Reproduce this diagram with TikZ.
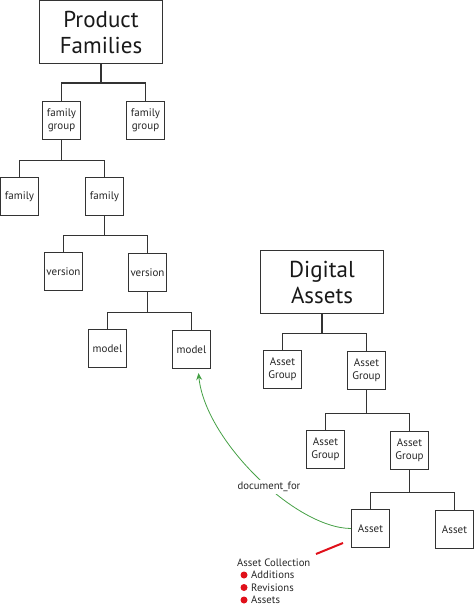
\documentclass[tikz,border=0pt]{standalone}
\usepackage{fontspec}
\setmainfont{PT Sans}
\usetikzlibrary{arrows.meta,calc}
\definecolor{linegray}{HTML}{333333}
\definecolor{arrowgreen}{HTML}{45A045}
\definecolor{bulletred}{HTML}{E0101A}
\begin{document}
\begin{tikzpicture}[x=1pt,y=-1pt,
  box/.style={draw=linegray, line width=1.2pt, minimum width=38pt, minimum height=38pt, inner sep=1pt, align=center, font=\fontsize{11}{13}\selectfont, text=black!85},
  bigbox/.style={draw=linegray, line width=1.2pt, minimum width=123pt, minimum height=63pt, inner sep=1pt, align=center, font=\fontsize{23}{26}\selectfont, text=black!90},
  conn/.style={draw=linegray, line width=1.2pt},
  label/.style={font=\fontsize{10.7}{12}\selectfont, text=black!85, inner sep=1pt},
  bullet/.style={circle, fill=bulletred, inner sep=0pt, minimum size=7pt},
]
\useasboundingbox (0,0) rectangle (474,607);
% Product families tree
\node[bigbox] (pf) at (101,32) {Product\\Families};
\node[box] (fg1) at (61.5,120.5) {family\\group};
\node[box] (fg2) at (145.5,120.5) {family\\group};
\node[box] (fam1) at (19.5,196.5) {family};
\node[box] (fam2) at (104.5,196.5) {family};
\node[box] (v1) at (63.5,271.5) {version};
\node[box] (v2) at (147.5,272.5) {version};
\node[box] (m1) at (107.5,348.5) {model};
\node[box] (m2) at (191.5,349.5) {model};
\draw[conn] (pf.south) -- ++(0,19) -| (fg1.north);
\draw[conn] (pf.south) -- ++(0,19) -| (fg2.north);
\draw[conn] (fg1.south) -- ++(0,20) -| (fam1.north);
\draw[conn] (fg1.south) -- ++(0,20) -| (fam2.north);
\draw[conn] (fam2.south) -- ++(0,19) -| (v1.north);
\draw[conn] (fam2.south) -- ++(0,19) -| (v2.north);
\draw[conn] (v2.south) -- ++(0,20) -| (m1.north);
\draw[conn] (v2.south) -- ++(0,20) -| (m2.north);
% Digital assets tree
\node[bigbox] (da) at (322,282) {Digital\\Assets};
\node[box] (ag1) at (282.5,369.5) {Asset\\Group};
\node[box] (ag2) at (366.5,370.5) {Asset\\Group};
\node[box] (ag3) at (325.5,449.5) {Asset\\Group};
\node[box] (ag4) at (409.5,450.5) {Asset\\Group};
\node[box] (a1) at (370.5,528.5) {Asset};
\node[box] (a2) at (454.5,529.5) {Asset};
\draw[conn] (da.south) -- ++(0,19) -| (ag1.north);
\draw[conn] (da.south) -- ++(0,19) -| (ag2.north);
\draw[conn] (ag2.south) -- ++(0,23) -| (ag3.north);
\draw[conn] (ag2.south) -- ++(0,23) -| (ag4.north);
\draw[conn] (ag4.south) -- ++(0,22) -| (a1.north);
\draw[conn] (ag4.south) -- ++(0,22) -| (a2.north);
% document_for relation
\coordinate (tip) at ($(m2.south)+(7,4)$);
\draw[arrowgreen, line width=0.8pt, -{Stealth[length=7pt,width=6pt]}] (a1.west) .. controls (295,528) and (205,440) .. (tip);
\node[label, fill=white, inner sep=2pt] (docfor) at (269,487) {document\_for};
% asset collection
\coordinate (r1) at (343,543);
\coordinate (r2) at (316,554);
\draw[bulletred, line width=2pt] (r1) -- (r2);
\node[label, anchor=west] (coll) at (236,563) {Asset Collection};
\node[bullet] (b1) at (244,575) {};
\node[bullet] (b2) at (244,587.5) {};
\node[bullet] (b3) at (244,600) {};
\node[label, anchor=west] (t1) at (250,575) {Additions};
\node[label, anchor=west] (t2) at (250,587.5) {Revisions};
\node[label, anchor=west] (t3) at (250,600) {Assets};
\end{tikzpicture}
\end{document}
